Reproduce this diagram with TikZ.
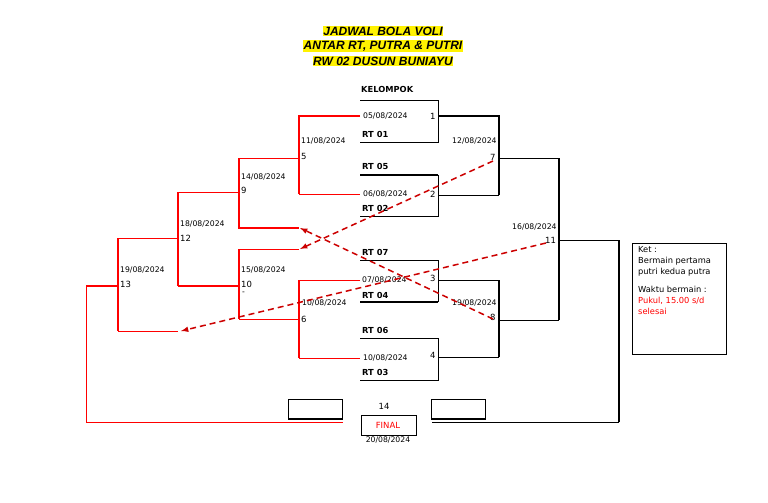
\documentclass[tikz,border=0pt]{standalone}
\usepackage{fontspec}
\setmainfont{DejaVu Sans}
\newfontfamily\titlefont{Liberation Sans}
\begin{document}
\begin{tikzpicture}[x=1pt,y=-1pt,
  sm/.style={font=\fontsize{7.7}{8}\selectfont,inner sep=0pt,anchor=west},
  nm/.style={font=\fontsize{8.5}{9}\selectfont,inner sep=0pt,anchor=west},
  kt/.style={font=\fontsize{8.3}{11}\selectfont,inner sep=0pt,align=left,anchor=north west},
  rt/.style={font=\bfseries\fontsize{8.3}{9}\selectfont,inner sep=0pt,anchor=west},
  bl/.style={black,line width=0.8pt},
  blt/.style={black,line width=1.5pt},
  rd/.style={red,line width=0.8pt},
  rdt/.style={red,line width=1.5pt},
  dsh/.style={red!80!black,line width=1.5pt,dash pattern=on 6pt off 4pt,-latex},
  tt/.style={font=\titlefont\bfseries\itshape\fontsize{12}{13}\selectfont,fill=yellow,inner sep=0.5pt}]
\useasboundingbox (0,0) rectangle (768,503);
% title
\node[tt] (t1) at (383,31) {JADWAL BOLA VOLI};
\node[tt] (t2) at (383,46) {ANTAR RT, PUTRA \& PUTRI};
\node[tt] (t3) at (383,61) {RW 02 DUSUN BUNIAYU};
\node[rt] (kel) at (361,89) {KELOMPOK};
% boxes
\draw[bl] (360,100) -- (438,100) -- (438,142) -- (360,142);
\draw[blt] (360,175) -- (438,175);
\draw[bl] (438,175) -- (438,216) -- (360,216);
\draw[bl] (360,260) -- (438,260) -- (438,302);
\draw[blt] (438,302) -- (360,302);
\draw[bl] (360,338) -- (438,338) -- (438,380) -- (360,380);
\node[sm] (d1) at (363,116) {05/08/2024}; \node[nm] (n1) at (430,116) {1};
\node[rt] (r01) at (362,134) {RT 01};
\node[rt] (r05) at (362,166) {RT 05};
\node[sm] (d2) at (363,194) {06/08/2024}; \node[nm] (n2) at (430,194) {2};
\node[rt] (r02) at (362,208) {RT 02};
\node[rt] (r07) at (362,252) {RT 07};
\node[sm] (d3) at (362,280) {07/08/2024}; \node[nm] (n3) at (430,278) {3};
\node[rt] (r04) at (362,295) {RT 04};
\node[rt] (r06) at (362,330) {RT 06};
\node[sm] (d4) at (363,358) {10/08/2024}; \node[nm] (n4) at (430,355) {4};
\node[rt] (r03) at (362,372) {RT 03};
% right bracket
\draw[blt] (438,116) -- (499,116) -- (499,195);
\draw[bl] (499,195) -- (438,195);
\draw[bl] (499,158) -- (559,158);
\node[sm] (d7) at (452,141) {12/08/2024}; \node[nm] (n7) at (490,157) {7};
\draw[bl] (438,280) -- (499,280);
\draw[blt] (499,280) -- (499,357);
\draw[bl] (499,357) -- (438,357);
\draw[bl] (499,320) -- (559,320);
\node[sm] (d8) at (452,303) {19/08/2024}; \node[nm] (n8) at (490,317) {8};
\draw[blt] (559,158) -- (559,320);
\draw[bl] (559,240) -- (619,240);
\draw[blt] (619,240) -- (619,422);
\draw[bl] (619,422) -- (432,422);
\node[sm] (d11) at (512,227) {16/08/2024}; \node[nm] (n11) at (545,240) {11};
% final
\draw[bl] (288,399) rectangle (342,419); \draw[blt] (288,419) -- (342,419);
\draw[bl] (431,399) rectangle (485,419); \draw[blt] (431,419) -- (485,419);
\draw[bl] (361,415) rectangle (416,435);
\node[nm,anchor=center,red] (fin) at (388,425) {FINAL};
\node[nm,anchor=center] (n14) at (384,406) {14};
\node[sm,anchor=center] (d14) at (388,440) {20/08/2024};
% left bracket
\draw[rdt] (360,116) -- (299,116) -- (299,194);
\draw[rd] (299,194) -- (360,194);
\draw[rd] (299,158) -- (239,158);
\node[sm] (d5) at (301,141) {11/08/2024}; \node[nm] (n5) at (301,156) {5};
\draw[rdt] (239,158) -- (239,228) -- (299,228);
\draw[rd] (239,192) -- (178,192);
\node[sm] (d9) at (241,177) {14/08/2024}; \node[nm] (n9) at (241,190) {9};
\draw[rd] (360,280) -- (299,280);
\draw[rdt] (299,280) -- (299,358);
\draw[rd] (299,358) -- (360,358);
\draw[rd] (299,319) -- (239,319);
\node[sm] (d6) at (302,303) {10/08/2024}; \node[nm] (n6) at (301,319) {6};
\draw[rd] (299,249) -- (239,249);
\draw[rdt] (239,249) -- (239,319);
\draw[rdt] (239,286) -- (178,286);
\node[sm] (d10) at (241,270) {15/08/2024}; \node[nm] (n10) at (241,284) {10};
\node[sm] (dash10) at (242,293) {-};
\draw[rdt] (178,192) -- (178,286);
\draw[rd] (178,238) -- (118,238);
\node[sm] (d12) at (180,224) {18/08/2024}; \node[nm] (n12) at (180,238) {12};
\draw[rdt] (118,238) -- (118,331);
\draw[rd] (118,331) -- (178,331);
\draw[rdt] (118,286) -- (86,286);
\draw[rd] (86,286) -- (86,422) -- (343,422);
\node[sm] (d13) at (120,270) {19/08/2024}; \node[nm] (n13) at (120,284) {13};
% dashed arrows
\coordinate (a7) at (493,161); \coordinate (e10) at (300,249);
\coordinate (a8) at (493,319); \coordinate (e9) at (300,228);
\coordinate (a11) at (546,243); \coordinate (e13) at (181,331);
\draw[dsh] (a7) -- (e10);
\draw[dsh] (a8) -- (e9);
\draw[dsh] (a11) -- (e13);
% ket
\draw[bl] (632,243) rectangle (726,354);
\node[kt] (ket) at (638,246) {Ket :\\Bermain pertama\\putri kedua putra};
\node[kt] (wkt) at (638,286) {Waktu bermain :\\\textcolor{red}{Pukul, 15.00 s/d}\\\textcolor{red}{selesai}};
\end{tikzpicture}
\end{document}
